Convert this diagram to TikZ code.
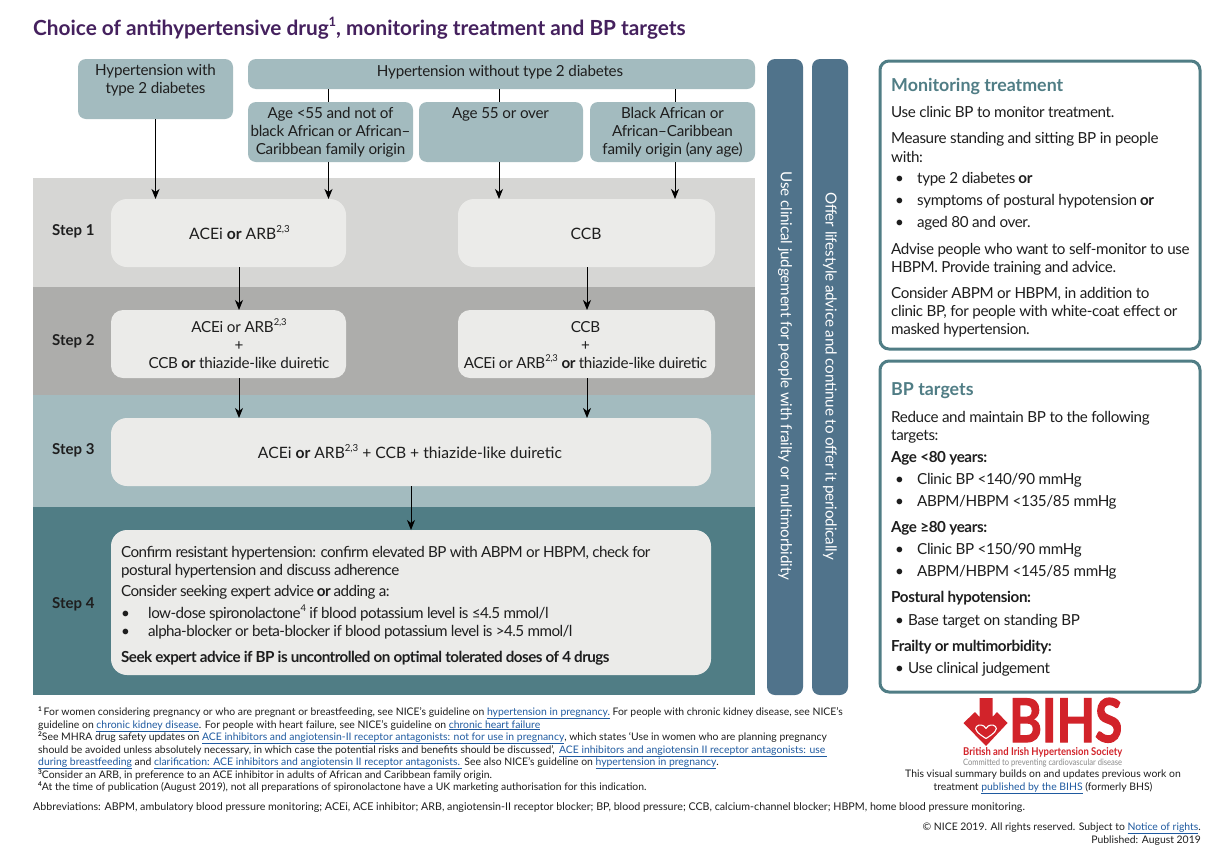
\documentclass[tikz,border=0pt]{standalone}
\usepackage{fontspec}
\usepackage{graphicx}
\setmainfont{Lato}
\usetikzlibrary{arrows.meta,calc}
\definecolor{titlec}{HTML}{45215E}
\definecolor{inkc}{HTML}{1E1E1E}
\definecolor{band1}{HTML}{D6D6D4}
\definecolor{band2}{HTML}{ADADAB}
\definecolor{band3}{HTML}{A3BBBF}
\definecolor{band4}{HTML}{507D85}
\definecolor{boxc}{HTML}{EBEBE9}
\definecolor{barc}{HTML}{50738B}
\definecolor{linkc}{HTML}{1F5AA0}
\definecolor{logored}{HTML}{D2232A}
\definecolor{logogrey}{HTML}{8A8A8A}
\newcommand{\lk}[1]{\textcolor{linkc}{\underline{#1}}}
\newcommand{\sps}[1]{\raisebox{0.42em}{\scalebox{0.62}{#1}}}
\newcommand{\nsps}[1]{\raisebox{0.3em}{\scalebox{0.62}{\bfseries #1}}}
\newcommand{\bodyf}{\fontsize{15.2}{18}\selectfont\addfontfeatures{LetterSpace=-2.5}}
\newcommand{\tightf}{\fontsize{15.2}{18}\selectfont\addfontfeatures{LetterSpace=-3.6}}
\newcommand{\boxf}{\fontsize{15.2}{17.6}\selectfont\addfontfeatures{LetterSpace=-1.5}}
\newcommand{\bigf}{\fontsize{15.7}{18}\selectfont}
\newcommand{\notef}{\fontsize{10.4}{13}\selectfont}
\newcounter{lin}
% text line: x, baseline y, text
\newcommand{\tl}[3]{\stepcounter{lin}\node[txt] (t\thelin) at (#1,#2) {#3};}
\newcommand{\stl}[3]{\stepcounter{lin}\node[txts] (t\thelin) at (#1,#2) {#3};}
\newcommand{\nl}[3]{\stepcounter{lin}\node[ntxt] (t\thelin) at (#1,#2) {#3};}
% box: name, x1,y1,x2,y2, style, text
\newcommand{\bx}[7]{\node[#6,minimum width={(#4-#2)*1pt},minimum height={(#5-#3)*1pt}] (#1) at ({(#2+#4)/2},{(#3+#5)/2}) {#7};}
\tikzset{
  txt/.style={anchor=base west,inner sep=0pt,text=inkc,font=\bodyf},
  txts/.style={anchor=base west,inner sep=0pt,text=inkc,font=\tightf},
  ntxt/.style={anchor=base west,inner sep=0pt,text=inkc,font=\notef},
  ctr/.style={anchor=base,inner sep=0pt,text=inkc,font=\boxf,align=center},
  ctrb/.style={anchor=base,inner sep=0pt,text=inkc,font=\bigf,align=center},
  band/.style={inner sep=0pt,outer sep=0pt,draw=none},
  headbox/.style={inner sep=0pt,outer sep=0pt,fill=band3,rounded corners=8pt},
  stepbox/.style={inner sep=0pt,outer sep=0pt,fill=boxc,rounded corners=16pt},
  stepboxb/.style={inner sep=0pt,outer sep=0pt,fill=boxc,rounded corners=12pt},
  sidebar/.style={inner sep=0pt,outer sep=0pt,fill=barc,rounded corners=8pt},
  panel/.style={inner sep=0pt,outer sep=0pt,draw=band4,line width=3pt,fill=white,rounded corners=9pt},
  bartext/.style={rotate=-90,inner sep=0pt,text=white,font=\fontsize{15.2}{18}\selectfont\addfontfeatures{LetterSpace=-1.1}},
  steplab/.style={anchor=base west,inner sep=0pt,text=inkc,font=\fontsize{15}{18}\selectfont\bfseries},
  head/.style={anchor=base west,inner sep=0pt,text=band4,font=\fontsize{17.8}{22}\selectfont\bfseries},
  arr/.style={draw=black,line width=1pt,-{Stealth[length=10pt,width=8pt,inset=3pt]}},
  stub/.style={draw=black,line width=1pt},
}
\begin{document}
\begin{tikzpicture}[x=1pt,y=-1pt]
\useasboundingbox (0,0) rectangle (1225,854);
\fill[white] (0,0) rectangle (1225,854);

\node[anchor=base west,inner sep=0pt,text=titlec,font=\fontsize{20.8}{25}\selectfont\bfseries] (title) at (33,35) {Choice of antihypertensive drug\sps{1}, monitoring treatment and BP targets};

% bands
\bx{b1}{33}{178}{755}{287}{band,fill=band1}{}
\bx{b2}{33}{287}{755}{395}{band,fill=band2}{}
\bx{b3}{33}{395}{755}{507}{band,fill=band3}{}
\bx{b4}{33}{507}{755}{695}{band,fill=band4}{}

% header boxes
\bx{ht2}{78}{59}{233}{119}{headbox}{}
\node[ctr] (ht2t) at (155.5,93) {Hypertension with\\type 2 diabetes};
\bx{hno}{248}{59}{755}{89}{headbox}{}
\node[ctr] (hnot) at (500,76) {Hypertension without type 2 diabetes};
\bx{age1}{248}{102}{413}{162}{headbox}{}
\node[ctr] (age1t) at (330.5,154) {Age <55 and not of\\black African or African–\\Caribbean family origin};
\bx{age2}{419}{102}{583}{162}{headbox}{}
\node[ctr] (age2t) at (500.5,118) {Age 55 or over};
\bx{age3}{590}{102}{755}{162}{headbox}{}
\node[ctr] (age3t) at (672.5,154) {Black African or\\African–Caribbean\\family origin (any age)};

% step boxes
\bx{s1a}{111}{199}{346}{267}{stepbox}{}
\bx{s1b}{458}{199}{715}{267}{stepbox}{}
\bx{s2a}{111}{310}{346}{378}{stepboxb}{}
\bx{s2b}{458}{310}{715}{378}{stepboxb}{}
\bx{s3}{111}{418}{711}{486}{stepbox}{}
\bx{s4}{111}{530}{711}{675}{stepbox}{}
\node[ctrb] (s1at) at (239.5,239) {ACEi \textbf{or} ARB\sps{2,3}};
\node[ctrb] (s1bt) at (586,239) {CCB};
\node[ctr,font=\fontsize{15.2}{18}\selectfont\addfontfeatures{LetterSpace=-1.5}] (s2at) at (239,368) {ACEi or ARB\sps{2,3}\\+\\CCB \textbf{or} thiazide-like duiretic};
\node[ctr,font=\fontsize{15.2}{18}\selectfont\addfontfeatures{LetterSpace=-2.2}] (s2bt) at (585.5,368) {CCB\\+\\ACEi or ARB\sps{2,3} \textbf{or} thiazide-like duiretic};
\node[ctrb,font=\fontsize{15.65}{18}\selectfont] (s3t) at (410,458) {ACEi \textbf{or} ARB\sps{2,3} + CCB + thiazide-like duiretic};

\node[steplab] (l1) at (52,235) {Step 1};
\node[steplab] (l2) at (52,345) {Step 2};
\node[steplab] (l3) at (52,454) {Step 3};
\node[steplab] (l4) at (52,608) {Step 4};

% step 4 text
\stl{121}{557}{Confirm resistant hypertension: confirm elevated BP with ABPM or HBPM, check for}
\stl{121}{575}{postural hypertension and discuss adherence}
\stl{121}{596}{Consider seeking expert advice \textbf{or} adding a:}
\stl{121}{618}{•}
\stl{148}{618}{low-dose spironolactone\sps{4} if blood potassium level is ≤4.5 mmol/l}
\stl{121}{636}{•}
\stl{148}{636}{alpha-blocker or beta-blocker if blood potassium level is >4.5 mmol/l}
\stl{121}{662}{\textbf{Seek expert advice if BP is uncontrolled on optimal tolerated doses of 4 drugs}}

% connector positions
\coordinate (xa) at (328.5,0);
\coordinate (xb) at (499,0);
\coordinate (xc) at (675,0);
\coordinate (xd) at (239,0);
\coordinate (xe) at (587,0);
\draw[stub] (hno.south -| xa) -- (age1.north -| xa);
\draw[stub] (hno.south -| xb) -- (age2.north -| xb);
\draw[stub] (hno.south -| xc) -- (age3.north -| xc);
\draw[arr] (ht2.south) -- (s1a.north -| ht2.south);
\draw[arr] (age1.south -| xa) -- (s1a.north -| xa);
\draw[arr] (age2.south -| xb) -- (s1b.north -| xb);
\draw[arr] (age3.south -| xc) -- (s1b.north -| xc);
\draw[arr] (s1a.south -| xd) -- (s2a.north -| xd);
\draw[arr] (s1b.south -| xe) -- (s2b.north -| xe);
\draw[arr] (s2a.south -| xd) -- (s3.north -| xd);
\draw[arr] (s2b.south -| xe) -- (s3.north -| xe);
\draw[arr] (s3.south) -- (s4.north);

% side bars
\bx{bar1}{767}{59}{803}{695}{sidebar}{}
\bx{bar2}{812}{59}{848}{695}{sidebar}{}
\node[bartext] (bar1t) at (785,376) {Use clinical judgement for people with frailty or multimorbidity};
\node[bartext] (bar2t) at (830,376) {Offer lifestyle advice and continue to offer it periodically};

% right panels
\bx{p1}{880}{61}{1200}{349}{panel}{}
\bx{p2}{880}{361}{1200}{692}{panel}{}
\node[head] (h1) at (891,91) {Monitoring treatment};
\tl{891}{117}{Use clinic BP to monitor treatment.}
\tl{891}{143}{Measure standing and sitting BP in people}
\tl{891}{162}{with:}
\tl{895}{183}{•}
\tl{917}{183}{type 2 diabetes \textbf{or}}
\tl{895}{205}{•}
\tl{917}{205}{symptoms of postural hypotension \textbf{or}}
\tl{895}{227}{•}
\tl{917}{227}{aged 80 and over.}
\tl{891}{254}{Advise people who want to self-monitor to use}
\tl{891}{272}{HBPM. Provide training and advice.}
\tl{891}{298}{Consider ABPM or HBPM, in addition to}
\tl{891}{316}{clinic BP, for people with white-coat effect or}
\tl{891}{334}{masked hypertension.}

\node[head] (h2) at (891,395) {BP targets};
\tl{891}{422}{Reduce and maintain BP to the following}
\tl{891}{440}{targets:}
\tl{891}{462}{\textbf{Age <80 years:}}
\tl{895}{484}{•}
\tl{917}{484}{Clinic BP <140/90 mmHg}
\tl{895}{506}{•}
\tl{917}{506}{ABPM/HBPM <135/85 mmHg}
\tl{891}{532}{\textbf{Age ≥80 years:}}
\tl{895}{554}{•}
\tl{917}{554}{Clinic BP <150/90 mmHg}
\tl{895}{576}{•}
\tl{917}{576}{ABPM/HBPM <145/85 mmHg}
\tl{891}{602}{\textbf{Postural hypotension:}}
\tl{895}{625}{•}
\tl{908}{625}{Base target on standing BP}
\tl{891}{651}{\textbf{Frailty or multimorbidity:}}
\tl{895}{673}{•}
\tl{908}{673}{Use clinical judgement}

% footnotes
\nl{38}{715}{\nsps{1}\,For women considering pregnancy or who are pregnant or breastfeeding, see NICE's guideline on \lk{hypertension in pregnancy.} For people with chronic kidney disease, see NICE's}
\nl{38}{728}{guideline on \lk{chronic kidney disease}. For people with heart failure, see NICE's guideline on \lk{chronic heart failure}}
\nl{38}{740}{\nsps{2}See MHRA drug safety updates on \lk{ACE inhibitors and angiotensin-II receptor antagonists: not for use in pregnancy}, which states ‘Use in women who are planning pregnancy}
\nl{38}{753}{should be avoided unless absolutely necessary, in which case the potential risks and benefits should be discussed’,\, \lk{ACE inhibitors and angiotensin II receptor antagonists: use\,}}
\nl{38}{765}{\lk{during breastfeeding} and \lk{clarification: ACE inhibitors and angiotensin II receptor antagonists.\,} See also NICE's guideline on \lk{hypertension in pregnancy}.}
\nl{38}{778}{\nsps{3}Consider an ARB, in preference to an ACE inhibitor in adults of African and Caribbean family origin.}
\nl{38}{790}{\nsps{4}At the time of publication (August 2019), not all preparations of spironolactone have a UK marketing authorisation for this indication.}
\node[ntxt,font=\fontsize{10.7}{13}\selectfont] (abbr) at (33,810) {Abbreviations: ABPM, ambulatory blood pressure monitoring; ACEi, ACE inhibitor; ARB, angiotensin-II receptor blocker; BP, blood pressure; CCB, calcium-channel blocker; HBPM, home blood pressure monitoring.};

\node[anchor=base east,inner sep=0pt,text=inkc,font=\notef] (copy1) at (1201,830) {© NICE 2019. All rights reserved. Subject to \lk{Notice of rights}.};
\node[anchor=base east,inner sep=0pt,text=inkc,font=\notef] (copy2) at (1201,843) {Published: August 2019};
\node[anchor=base,inner sep=0pt,text=inkc,font=\notef,align=center] (bihsnote) at (1043,777) {This visual summary builds on and updates previous work on};
\node[anchor=base,inner sep=0pt,text=inkc,font=\notef,align=center] (bihsnote2) at (1043,790) {treatment \lk{published by the BIHS} (formerly BHS)};

% BIHS logo
\fill[white] (960,693.5) rectangle (1127,696);
\fill[logored] (979.5,698) -- (992.5,698) -- (992.5,717) -- (997,712) -- (1007.5,723) -- (986,746) -- (963.5,723) -- (975,712) -- (979.5,717) -- cycle;
\draw[white,line width=1.1pt,line join=round] (986,738.5) .. controls (977,733) and (974,729) .. (976.5,726.5) .. controls (979,724) and (984,724.5) .. (986,728.5) .. controls (988,724.5) and (993,724) .. (995.5,726.5) .. controls (998,729) and (995,733) .. (986,738.5) -- cycle;
\node[inner sep=0pt,anchor=base west,text=logored,font=\bfseries\addfontfeatures{FakeBold=2}] (bihs) at (1009,742) {\resizebox{113pt}{44pt}{BIHS}};
\node[inner sep=0pt,anchor=base west,text=logored,font=\fontsize{11}{12}\selectfont\bfseries] (bihs1) at (963,755.5) {\resizebox{159pt}{8pt}{British and Irish Hypertension Society}};
\node[inner sep=0pt,anchor=base west,text=logogrey,font=\fontsize{9}{11}\selectfont] (bihs2) at (963,765) {\resizebox{159pt}{6.5pt}{Committed to preventing cardiovascular disease}};
\end{tikzpicture}
\end{document}
